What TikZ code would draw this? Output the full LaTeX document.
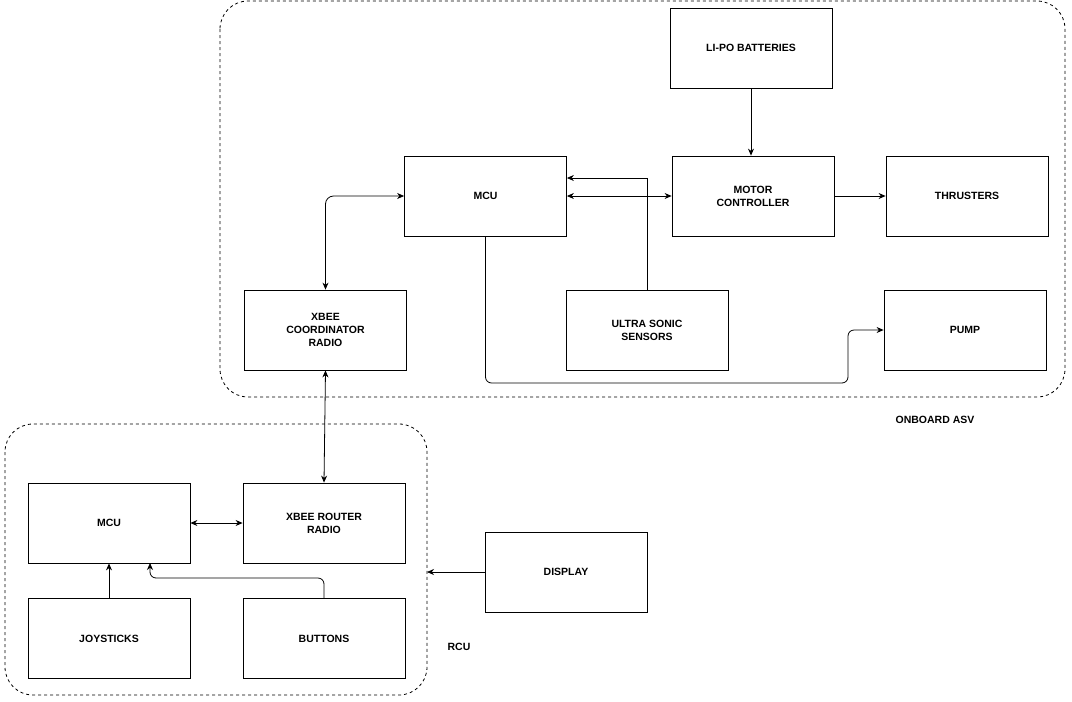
\documentclass[tikz,border=0pt]{standalone}
\usepackage{fontspec}
\setmainfont{Liberation Sans}
\usetikzlibrary{arrows.meta}
\begin{document}
\begin{tikzpicture}[x=1pt,y=-1pt,
 box/.style={draw,thick,minimum width=162pt,minimum height=80pt,align=center,font=\fontsize{10.5}{13}\selectfont\bfseries,inner sep=0pt},
 grp/.style={draw,thick,dashed,rounded corners=28pt},
 lbl/.style={font=\fontsize{10.5}{13}\selectfont\bfseries},
 ar/.style={thick,-{Stealth[length=7pt,width=6pt]}},
 dar/.style={thick,{Stealth[length=7pt,width=6pt]}-{Stealth[length=7pt,width=6pt]}}]
\useasboundingbox (0,0) rectangle (1072,702);
\fill[white] (0,0) rectangle (1072,702);
\draw[grp] (220,1) rectangle (1065,397);
\draw[grp] (5,424) rectangle (427,695);
\node[lbl] (asv) at (935,420) {ONBOARD ASV};
\node[lbl] (rcu) at (459,647) {RCU};
\node[box] (lipo) at (751,48) {LI-PO BATTERIES};
\node[box] (mcu) at (485.5,196) {MCU};
\node[box] (motor) at (753,196) {MOTOR\\CONTROLLER};
\node[box] (thr) at (967,196) {THRUSTERS};
\node[box] (xc) at (325.5,330) {XBEE\\COORDINATOR\\RADIO};
\node[box] (us) at (647,330) {ULTRA SONIC\\SENSORS};
\node[box] (pump) at (965,330) {PUMP};
\node[box] (mcu2) at (109,523) {MCU};
\node[box] (xr) at (324,523) {XBEE ROUTER\\RADIO};
\node[box] (disp) at (566,572) {DISPLAY};
\node[box] (joy) at (109,638.5) {JOYSTICKS};
\node[box] (btn) at (324,638.5) {BUTTONS};
\coordinate (rcuedge) at (427,572);
\draw[ar] (lipo) -- (lipo|-motor.north);
\draw[dar] (mcu) -- (motor);
\draw[ar] (motor) -- (thr);
\draw[ar] (us.north) |- ([yshift=18pt]mcu.east);
\draw[ar,rounded corners=6pt] (mcu.south) |- (848,383) |- (pump.west);
\draw[dar,rounded corners=8pt] (mcu.west) -| (xc.north);
\draw[dar] (xc.south) -- (xr.north);
\draw[dar] (mcu2) -- (xr);
\draw[ar] (joy) -- (mcu2);
\draw[ar,rounded corners=6pt] (btn.north) |- (150,578) -- (150,563);
\draw[ar] (disp) -- (rcuedge);
\end{tikzpicture}
\end{document}
